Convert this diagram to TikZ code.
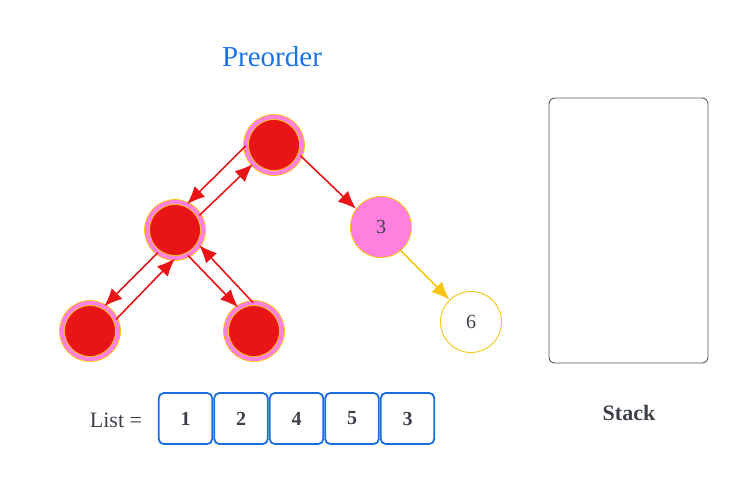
\documentclass[tikz,border=0pt]{standalone}
\usepackage{fontspec}
\setmainfont{Liberation Serif}
\usetikzlibrary{arrows.meta}
\definecolor{redfill}{RGB}{232,20,22}
\definecolor{pinkfill}{RGB}{255,128,223}
\definecolor{yellowline}{RGB}{247,198,20}
\definecolor{titleblue}{RGB}{26,115,232}
\definecolor{listblue}{RGB}{24,110,222}
\definecolor{txtgray}{RGB}{60,64,72}
\tikzset{
  visited/.style={circle, draw=yellowline, double=pinkfill, line width=0.9pt,
    double distance=4pt, fill=redfill, minimum size=56pt, inner sep=0pt},
  current/.style={circle, draw=yellowline, fill=pinkfill, line width=0.9pt,
    minimum size=61pt, inner sep=0pt, text=txtgray, font=\fontsize{20}{24}\selectfont},
  fresh/.style={circle, draw=yellowline, fill=white, line width=0.9pt,
    minimum size=61pt, inner sep=0pt, text=txtgray, font=\fontsize{20}{24}\selectfont},
  listbox/.style={draw=listblue, rounded corners=5pt, line width=1.8pt,
    minimum width=53.5pt, minimum height=51pt, inner sep=0pt, text=txtgray,
    font=\fontsize{20}{24}\selectfont\bfseries},
  redarrow/.style={-{Latex[length=18pt,width=15pt]}, draw=redfill, line width=1.6pt},
  yellowarrow/.style={-{Latex[length=18pt,width=15pt]}, draw=yellowline, line width=1.6pt}
}
\begin{document}
\begin{tikzpicture}[x=1pt, y=-1pt]
      \useasboundingbox (0,0) rectangle (743,482);

      \node [text=titleblue, font=\fontsize{29}{34}\selectfont, name=title] at (272,57) {Preorder};

      \node [visited, name=n1] at (274,145) {};
      \node [visited, name=n2] at (175,230) {};
      \node [visited, name=n4] at (90,331) {};
      \node [visited, name=n5] at (254,331) {};
      \node [current, name=n3] at (381,227) {3};
      \node [fresh, name=n6] at (471,322) {6};

      \draw [redarrow] (n1.182) -- (n2.65);
      \draw [redarrow] (n2.31) -- (n1.222);
      \draw [redarrow] (n2.233) -- (n4.60);
      \draw [redarrow] (n4.24) -- (n2.270);
      \draw [redarrow] (n2.297) -- (n5.124);
      \draw [redarrow] (n5.92) -- (n2.328);
      \draw [redarrow] (n1.338) -- (n3.144);
      \draw [yellowarrow] (n3.310) -- (n6.134);

      \node [text=txtgray, font=\fontsize{22}{26}\selectfont, name=listlabel] at (116,420) {List =};
      \foreach \v [count=\i] in {1,2,4,5,3}
        \node [listbox, name=l\i] at (130+55.5*\i,418.5) {\v};

      \draw [draw=black!65, line width=0.9pt, rounded corners=6pt] (549,98) rectangle (708,363);
      \node [text=txtgray, font=\fontsize{22}{26}\selectfont\bfseries, name=stack] at (629,413) {Stack};
\end{tikzpicture}
\end{document}
